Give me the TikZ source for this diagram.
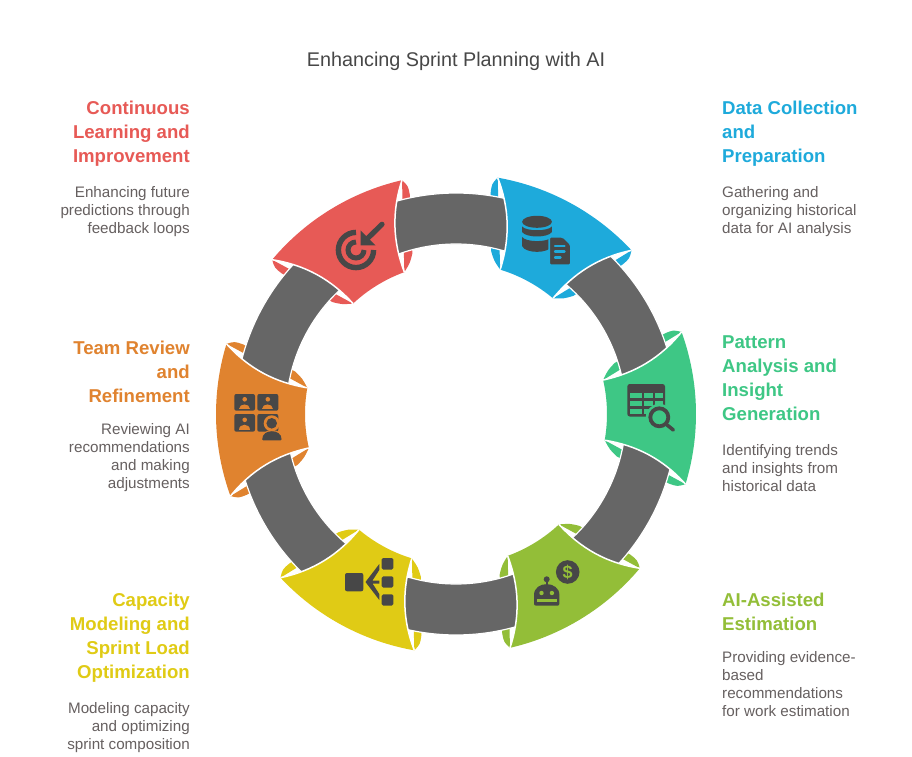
\documentclass[tikz,border=0pt]{standalone}
\usepackage{fontspec}
\setmainfont{Liberation Sans}
\definecolor{cred}{HTML}{E75A56}
\definecolor{cblue}{HTML}{1EAADB}
\definecolor{cgreen}{HTML}{3EC785}
\definecolor{clime}{HTML}{93BE38}
\definecolor{cyellow}{HTML}{E0CB15}
\definecolor{corange}{HTML}{E0832F}
\definecolor{cring}{HTML}{666666}
\definecolor{cicon}{HTML}{474747}
\definecolor{cdesc}{HTML}{666060}
\tikzset{
  x=1pt,y=1pt,
  headl/.style={inner sep=0pt,anchor=north west,align=left,text=#1,font=\fontsize{18.6}{24}\selectfont\bfseries,execute at begin node=\strut},
  headr/.style={inner sep=0pt,anchor=north east,align=right,text=#1,font=\fontsize{18.6}{24}\selectfont\bfseries,execute at begin node=\strut},
  descl/.style={inner sep=0pt,anchor=north west,align=left,text=cdesc,font=\fontsize{15.2}{18}\selectfont,execute at begin node=\strut},
  descr/.style={inner sep=0pt,anchor=north east,align=right,text=cdesc,font=\fontsize{15.2}{18}\selectfont,execute at begin node=\strut},
  icon/.style={fill=cicon,draw=none},
  iconline/.style={draw=cicon,line cap=round},
}
\newcommand{\flapshape}{(18.5:240) .. controls (19.65:233) .. (19.6:224) -- (16.3:166.5) .. controls (14.6:158) .. (11.5:151) -- cycle
  (-18.5:240) .. controls (-19.65:233) .. (-19.6:224) -- (-16.3:166.5) .. controls (-14.6:158) .. (-11.5:151) -- cycle}
\newcommand{\smallperson}[3]{%
  \fill[#3] (#1,#2) circle[radius=2.3];
  \fill[#3] (#1-5.5,#2+10) .. controls (#1-5.5,#2+3.5) and (#1+5.5,#2+3.5) .. (#1+5.5,#2+10) -- cycle;
}
\begin{document}
\begin{tikzpicture}
\useasboundingbox (0,0) rectangle (912,756);
\fill[white] (0,0) rectangle (912,756);
% ring, centre at (456,414) in image coordinates
\begin{scope}[shift={(456,342)}]
  \foreach \ang/\mycol in {61.5/cblue,1.5/cgreen,-58.5/clime,-118.5/cyellow,-178.5/corange,121.5/cred}{
    \fill[\mycol,rotate=\ang] \flapshape;
  }
  \foreach \ang in {61.5,1.5,-58.5,-118.5,-178.5,121.5}{
    \begin{scope}[rotate=\ang]
      \filldraw[fill=cring,draw=white,line width=1.2pt] (10:221) arc[start angle=10,end angle=50,radius=221] -- (50:170) arc[start angle=50,end angle=10,radius=170] -- cycle;
    \end{scope}
  }
  \foreach \ang/\mycol in {61.5/cblue,1.5/cgreen,-58.5/clime,-118.5/cyellow,-178.5/corange,121.5/cred}{
    \begin{scope}[rotate=\ang]
      \fill[\mycol] (18.5:240) .. controls (206.1,50.7) and (179.6,36) .. (11.5:151)
        arc[start angle=11.5,end angle=-11.5,radius=151]
        .. controls (179.6,-36) and (206.1,-50.7) .. (-18.5:240)
        arc[start angle=-18.5,end angle=18.5,radius=240] -- cycle;
      \draw[white,line width=1.5pt] (18.5:240) .. controls (206.1,50.7) and (179.6,36) .. (11.5:151);
      \draw[white,line width=1.5pt] (-11.5:151) .. controls (179.6,-36) and (206.1,-50.7) .. (-18.5:240);
    \end{scope}
  }
\end{scope}
% everything below in image pixel coordinates
\begin{scope}[shift={(0,756)},yscale=-1]
  \node[inner sep=0pt,anchor=base,text=cicon,font=\fontsize{19.8}{24}\selectfont] (title) at (456,67) {Enhancing Sprint Planning with AI};
  % texts
  \node[headr=cred] (h1) at (190,100.9) {Continuous\\Learning and\\Improvement};
  \node[descr] (d1) at (190,186.7) {Enhancing future\\predictions through\\feedback loops};
  \node[headl=cblue] (h2) at (722,100.9) {Data Collection\\and\\Preparation};
  \node[descl] (d2) at (722,186.7) {Gathering and\\organizing historical\\data for AI analysis};
  \node[headl=cgreen] (h3) at (722,335.4) {Pattern\\Analysis and\\Insight\\Generation};
  \node[descl] (d3) at (722,444) {Identifying trends\\and insights from\\historical data};
  \node[headl=clime] (h4) at (722,592.9) {AI-Assisted\\Estimation};
  \node[descl] (d4) at (722,651) {Providing evidence-\\based\\recommendations\\for work estimation};
  \node[headr=cyellow] (h5) at (190,592.9) {Capacity\\Modeling and\\Sprint Load\\Optimization};
  \node[descr] (d5) at (190,702) {Modeling capacity\\and optimizing\\sprint composition};
  \node[headr=corange] (h6) at (190,340.9) {Team Review\\and\\Refinement};
  \node[descr] (d6) at (190,423.7) {Reviewing AI\\recommendations\\and making\\adjustments};
  % target icon
  \draw[iconline,line cap=butt,line width=5.4pt] (373.6,250) arc[start angle=0,end angle=270,radius=17.6];
  \draw[iconline,line cap=butt,line width=5pt] (364,250) arc[start angle=0,end angle=270,radius=8];
  \fill[icon] (360.7,245.5) -- (360.7,230.5) -- (375.7,245.5) -- cycle;
  \draw[iconline,line width=5.2pt] (367,239) -- (382,224.3);
  % database icon
  \fill[icon] (537,221.8) ellipse[x radius=14.9,y radius=6];
  \fill[icon] (522.1,226.5) .. controls (526,231.5) and (548,231.5) .. (551.9,226.5) -- (551.9,232) .. controls (548,238) and (526,238) .. (522.1,232) -- cycle;
  \fill[icon] (522.1,237) .. controls (526,242.5) and (548,242.5) .. (551.9,237) -- (551.9,246) .. controls (549,253.8) and (525,253.8) .. (522.1,246) -- cycle;
  \filldraw[fill=cicon,draw=cblue,line width=1.6pt,rounded corners=1.5pt] (549.2,236.9) -- (563,236.9) -- (570.8,244.5) -- (570.8,265.1) -- (549.2,265.1) -- cycle;
  \draw[cblue,line width=2.4pt,line cap=round] (555,246) -- (564.5,246) (555,251.6) -- (564.5,251.6) (555,257.5) -- (560.5,257.5);
  % table icon
  \fill[icon,rounded corners=2.5pt] (627.3,384) rectangle (665,416.5);
  \foreach \xa/\xb in {630/641.7,644.3/652.7,655/662.7}{
    \foreach \ya/\yb in {392.7/398.3,400.7/406.3,408.7/414.3}{
      \fill[cgreen] (\xa,\ya) rectangle (\xb,\yb);
    }
  }
  \fill[cgreen] (659.3,417.3) circle[radius=13.5];
  \draw[iconline,line width=3.8pt] (659.3,417.3) circle[radius=9];
  \draw[iconline,line width=3.6pt] (666.5,424.5) -- (673.3,430);
  % robot and dollar icon
  \fill[icon] (567.7,572) circle[radius=11.8];
  \node[inner sep=0pt,text=clime,font=\fontsize{18}{18}\selectfont\bfseries] (dollar) at (567.7,572) {\$};
  \fill[icon] (546.7,579.3) circle[radius=3];
  \fill[icon] (545.9,580) rectangle (547.5,587);
  \fill[icon,rounded corners=2pt] (534,605.7) -- (534,597) .. controls (534,580.5) and (559.4,580.5) .. (559.4,597) -- (559.4,605.7) -- cycle;
  \fill[clime] (541.5,593) circle[radius=2.2] (551.9,593) circle[radius=2.2];
  \fill[clime] (536.7,599.4) rectangle (556.7,601.6);
  % hierarchy icon
  \fill[icon,rounded corners=2pt] (345,573) rectangle (363.3,591.3);
  \fill[icon,rounded corners=1.5pt] (381.7,558) rectangle (393.3,569.5);
  \fill[icon,rounded corners=1.5pt] (381.7,576.3) rectangle (393.3,587.5);
  \fill[icon,rounded corners=1.5pt] (381.7,594.3) rectangle (393.3,605.5);
  \fill[icon] (365.5,582) -- (379.3,564) -- (379.3,570) -- (372.5,580.5) -- (379.3,580.5) -- (379.3,583.5) -- (372.5,583.5) -- (379.3,594) -- (379.3,600) -- cycle;
  % people icon
  \fill[icon,rounded corners=2pt] (234.3,394) rectangle (255,410.7);
  \fill[icon,rounded corners=2pt] (257.3,394) rectangle (278.3,410.7);
  \fill[icon,rounded corners=2pt] (234.3,414) rectangle (255,431.7);
  \fill[icon,rounded corners=2pt] (257.3,414) rectangle (278.3,431.7);
  \smallperson{244.7}{399.3}{corange}
  \smallperson{267.8}{399.3}{corange}
  \smallperson{244.7}{419.8}{corange}
  \fill[corange] (271.7,423.3) circle[radius=8];
  \fill[corange] (259.8,442) .. controls (259.8,426) and (283.8,426) .. (283.8,442) -- cycle;
  \fill[icon] (271.7,423.3) circle[radius=5.3];
  \fill[icon,rounded corners=1pt] (262.2,440.3) .. controls (262.2,428.5) and (281.6,428.5) .. (281.6,440.3) -- cycle;
\end{scope}
\end{tikzpicture}
\end{document}
